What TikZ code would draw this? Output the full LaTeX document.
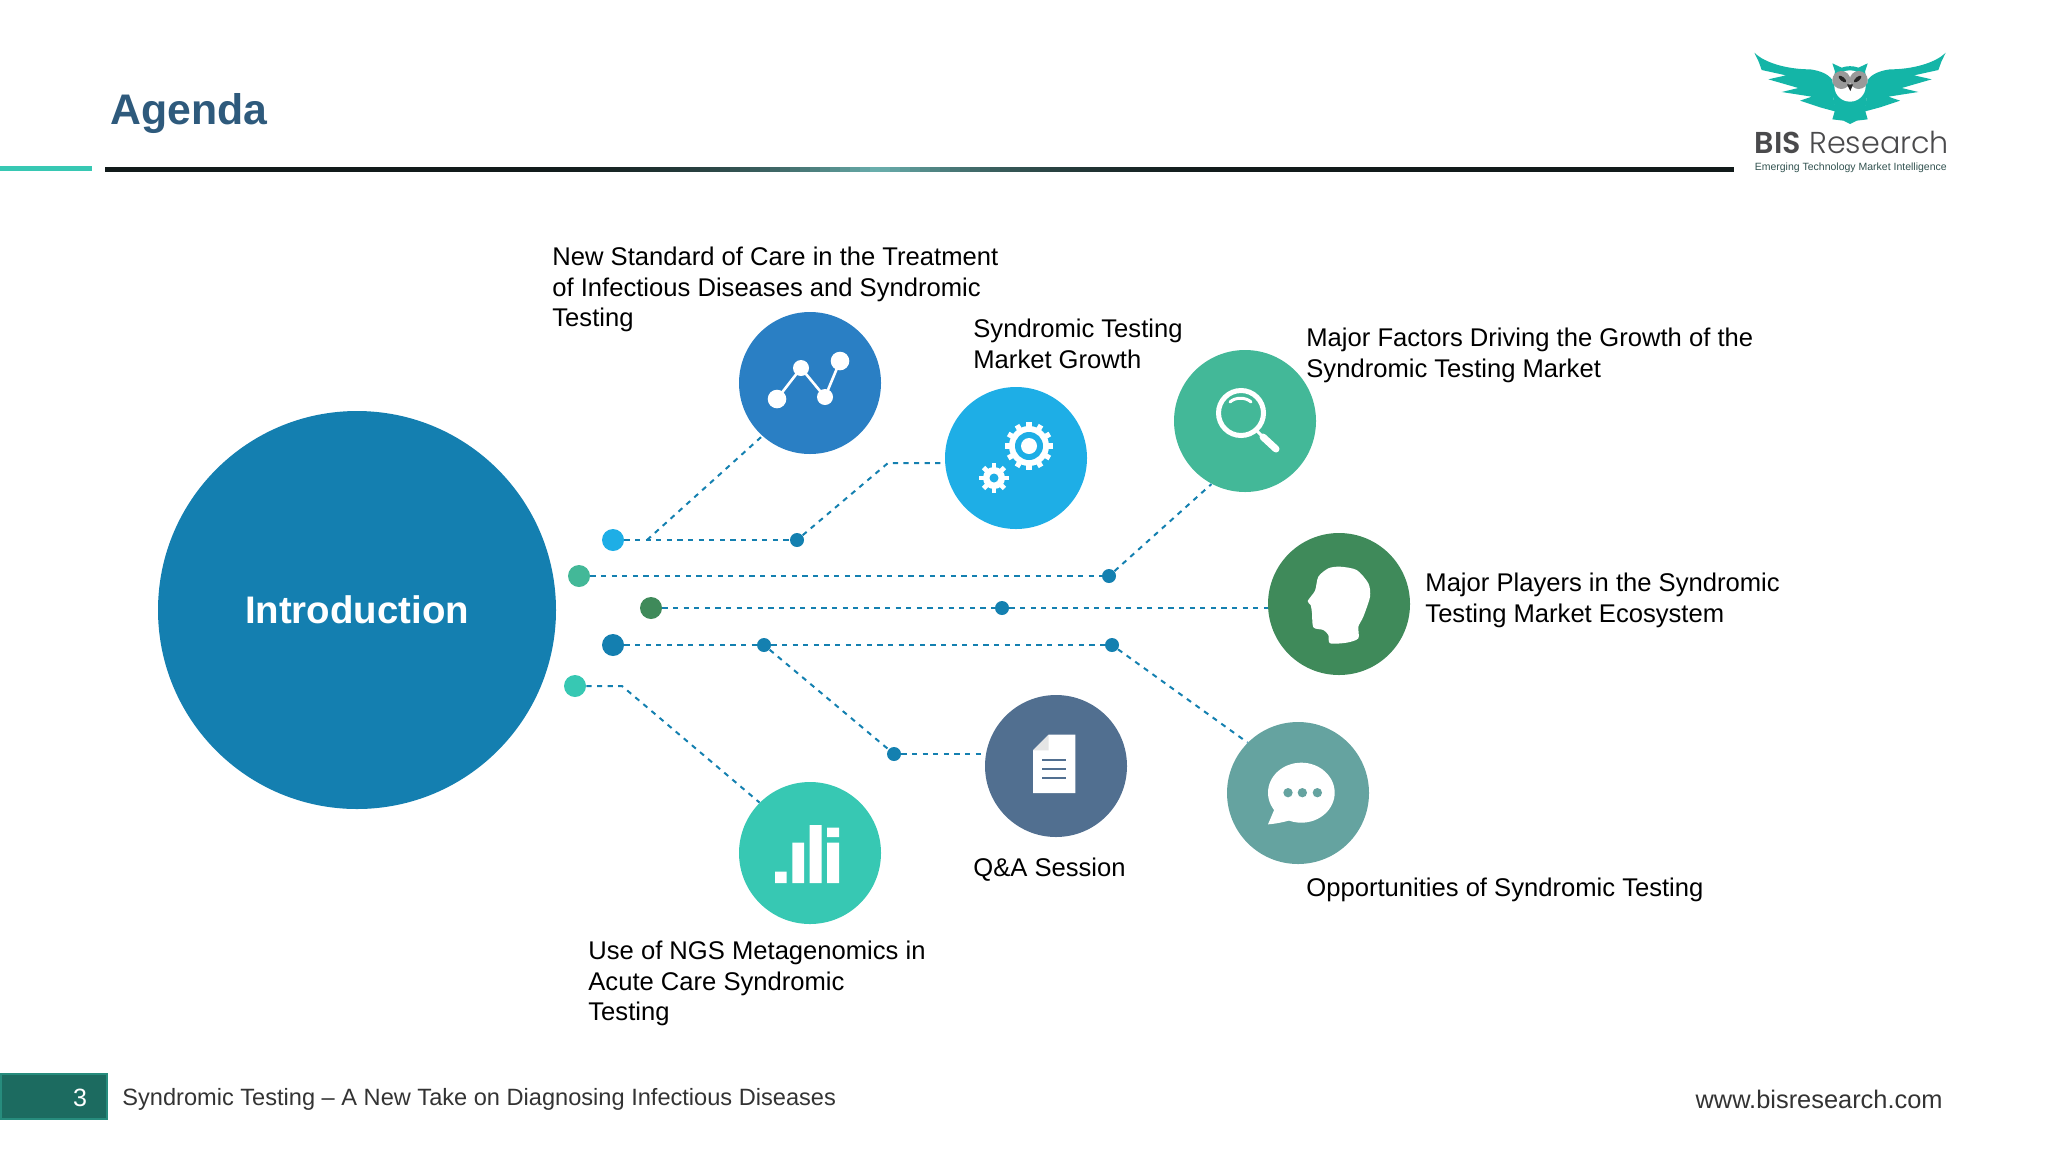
\documentclass[tikz,border=0pt]{standalone}
\usepackage{fontspec}
\setmainfont{Liberation Sans}
\newfontfamily\logofont{Poppins SemiBold}
\newfontfamily\logolight{Poppins Light}
\definecolor{leadblue}{HTML}{1480B0}
\definecolor{introblue}{HTML}{147FB0}
\definecolor{chartblue}{HTML}{2A7FC4}
\definecolor{gearblue}{HTML}{1EAEE6}
\definecolor{lensgreen}{HTML}{43B898}
\definecolor{headgreen}{HTML}{3F8A5A}
\definecolor{chatgreen}{HTML}{65A3A0}
\definecolor{docblue}{HTML}{516F90}
\definecolor{barteal}{HTML}{37C8B3}
\definecolor{owlteal}{HTML}{14B5A7}
\definecolor{logogray}{HTML}{4A4A4C}
\definecolor{titleblue}{HTML}{2E5A7C}
\definecolor{pageteal}{HTML}{1C6B60}
\definecolor{ruledark}{HTML}{111A1A}
\definecolor{rulemid}{HTML}{6AB0AE}
\tikzstyle{topic} = [circle, minimum size=71pt, inner sep=0pt]
\tikzstyle{bullet} = [circle, minimum size=11pt, inner sep=0pt]
\tikzstyle{joint} = [circle, minimum size=7pt, inner sep=0pt, fill=leadblue]
\tikzstyle{lead} = [draw=leadblue, line width=1pt, dash pattern=on 2.6pt off 2.7pt]
\tikzstyle{label} = [anchor=north west, inner sep=0pt, align=left, font=\fontsize{12.8}{15.35}\selectfont, text=black]
\tikzstyle{crop} = [x=.16667pt, y=-.16667pt]
\newcommand{\owlwing}{%
	\fill[owlteal] (163,68) .. controls (195,100) and (265,118) .. (330,118) .. controls (360,122) and (385,132) .. (397,150)
		-- (400,205) -- (408,245) -- (360,232) -- (300,212) -- (335,200) -- (245,186) -- (295,174) -- (205,148) -- (258,136) -- (185,120) -- (176,95) -- cycle;%
}
\begin{document}
\begin{tikzpicture}[x=.5pt, y=-.5pt]
	\useasboundingbox (0,0) rectangle (2048,1152);
	% header
	\node[anchor=base west, inner sep=0pt, font=\fontsize{21.4}{24}\selectfont\bfseries, text=titleblue] (title) at (110,124) {Agenda};
	\fill[barteal] (0,166) rectangle (92,171);
	\fill[ruledark] (105,167) rectangle (1734,172);
	\foreach \x in {510,520,...,1230} {
		\pgfmathsetmacro{\glow}{100*(1-min(abs(\x-873)/365,1))^2}
		\fill[rulemid!\glow!ruledark] (\x,167) rectangle (\x+11,172);
	}
	% logo
	\begin{scope}[shift={(1700,30)}, crop]
		\owlwing
		\begin{scope}[shift={(900,0)}, xscale=-1]
			\owlwing
		\end{scope}
		\fill[owlteal] (397,100) -- (425,113) .. controls (440,107) and (460,107) .. (475,113) -- (503,100) -- (495,125) -- (505,170) -- (495,240) -- (503,268) -- (470,272) -- (450,282) -- (430,272) -- (397,268) -- (405,240) -- (395,170) -- (405,125) -- cycle;
		\fill[white] (450,168) circle[radius=47];
		\fill[black!40] (424,150) circle[radius=27];
		\fill[black!40] (476,150) circle[radius=27];
		\fill[black!85] (427,147) ellipse[x radius=14, y radius=6, rotate=-40];
		\fill[black!85] (473,147) ellipse[x radius=14, y radius=6, rotate=40];
		\fill[black!85] (441,163) -- (459,163) -- (451,183) -- cycle;
		\node[anchor=base west, inner sep=0pt, font=\fontsize{15.1}{18}\selectfont, text=logogray] (brand) at (163,369) {{\logofont BIS} {\logolight Research}};
		\node[anchor=base west, inner sep=0pt, font=\fontsize{5.25}{7}\selectfont, text=chatgreen!50!black] (tagline) at (163,420) {Emerging Technology Market Intelligence};
	\end{scope}
	% hub
	\node[circle, minimum size=199pt, inner sep=0pt, fill=introblue, text=white, font=\fontsize{19.2}{22}\selectfont\bfseries] (intro) at (357,610) {\raisebox{-1.2pt}{Introduction}};
	% topics
	\node[topic, fill=chartblue] (chart) at (810,383) {};
	\node[topic, fill=gearblue] (gears) at (1016,458) {};
	\node[topic, fill=lensgreen] (lens) at (1245,421) {};
	\node[topic, fill=headgreen] (head) at (1339,604) {};
	\node[topic, fill=chatgreen] (chat) at (1298,793) {};
	\node[topic, fill=docblue] (doc) at (1056,766) {};
	\node[topic, fill=barteal] (bars) at (810,853) {};
	% bullets
	\node[bullet, fill=gearblue] (dotA) at (613,540) {};
	\node[bullet, fill=lensgreen] (dotB) at (579,576) {};
	\node[bullet, fill=headgreen] (dotC) at (651,608) {};
	\node[bullet, fill=introblue] (dotD) at (613,645) {};
	\node[bullet, fill=barteal] (dotE) at (575,686) {};
	% joints
	\node[joint] (jointA) at (797,540) {};
	\node[joint] (jointB) at (1109,576) {};
	\node[joint] (jointC) at (1002,608) {};
	\node[joint] (jointD) at (764,645) {};
	\node[joint] (jointE) at (1112,645) {};
	\node[joint] (jointF) at (894,754) {};
	\coordinate (kneeA) at (647,540);
	\coordinate (kneeB) at (888,463);
	\coordinate (kneeC) at (622,686);
	% leads
	\draw[lead] (dotA) -- (jointA);
	\draw[lead] (kneeA) -- (chart.228);
	\draw[lead] (jointA) -- (kneeB) -- (kneeB -| gears.west);
	\draw[lead] (dotB) -- (jointB);
	\draw[lead] (jointB) -- (lens.242);
	\draw[lead] (dotC) -- (jointC);
	\draw[lead] (jointC) -- (jointC -| head.west);
	\draw[lead] (dotD) -- (jointD);
	\draw[lead] (jointD) -- (jointE);
	\draw[lead] (jointE) -- (chat.135);
	\draw[lead] (jointD) -- (jointF);
	\draw[lead] (jointF) -- (jointF -| doc.west);
	\draw[lead] (dotE) -- (kneeC) -- (bars.135);
	% icons
	\begin{scope}[shift={(chart.center)}]
		\draw[white, line width=1.3pt] (-33,16) -- (-9,-15) -- (15,14) -- (30,-22);
		\fill[white] (-33,16) circle[radius=9.3] (-9,-15) circle[radius=8] (15,14) circle[radius=8] (30,-22) circle[radius=9.3];
	\end{scope}
	\begin{scope}[shift={(gears.center)}]
		\begin{scope}[shift={(13,-12)}]
			\foreach \a in {0,30,...,330} \draw[white, line width=2.6pt] (\a:18) -- (\a:24);
			\fill[white] (0,0) circle[radius=20];
			\fill[gearblue] (0,0) circle[radius=14];
			\fill[white] (0,0) circle[radius=8];
		\end{scope}
		\begin{scope}[shift={(-22,20)}]
			\foreach \a in {0,45,...,315} \draw[white, line width=2.4pt] (\a:9) -- (\a:14.7);
			\fill[white] (0,0) circle[radius=11];
			\fill[gearblue] (0,0) circle[radius=4.5];
		\end{scope}
	\end{scope}
	\begin{scope}[shift={(lens.center)}]
		\draw[white, line width=2.5pt] (-4,-8) circle[radius=22.5];
		\draw[white, line width=1.5pt, line cap=round] (-15,-19) .. controls (-10,-24) and (1,-24) .. (6,-19);
		\draw[white, line width=1.5pt] (12,10) -- (18,16);
		\draw[white, line width=3.5pt, line cap=round] (18,16) -- (31,28);
	\end{scope}
	\begin{scope}[shift={(head.center)}, crop, shift={(-237,-222)}]
		\fill[white] plot[smooth cycle, tension=.45] coordinates {(210,340) (205,315) (190,300) (160,292) (156,250) (152,225) (143,213) (165,182) (175,140) (205,115) (240,110) (290,120) (325,160) (330,200) (310,260) (295,290) (295,325) (260,338)};
	\end{scope}
	\begin{scope}[shift={(chat.center)}, crop, shift={(-115,-788)}]
		\fill[white] (125,787) ellipse[x radius=100, y radius=90];
		\fill[white] (45,835) -- (25,882) .. controls (50,880) and (75,875) .. (95,868) -- cycle;
		\fill[chatgreen] (85,787) circle[radius=14] (128,787) circle[radius=14] (173,787) circle[radius=14];
	\end{scope}
	\begin{scope}[shift={(doc.center)}, crop, shift={(-977,-229)}]
		\fill[white] (955,135) -- (1035,135) -- (1035,310) -- (908,310) -- (908,182) -- cycle;
		\fill[black!10] (955,135) -- (955,182) -- (908,182) -- cycle;
		\foreach \y in {211,238,265} \draw[docblue, line width=.9pt] (935,\y) -- (1007,\y);
	\end{scope}
	\begin{scope}[shift={(bars.center)}, crop, shift={(-240,-489)}]
		\fill[white] (135,545) rectangle (170,579) (187,458) rectangle (222,579) (239,405) rectangle (275,579) (291,458) rectangle (327,579) (291,413) rectangle (327,441);
	\end{scope}
	% labels
	\node[label] (textA) at (552,246.5) {New Standard of Care in the Treatment\\of Infectious Diseases and Syndromic\\Testing};
	\node[label] (textB) at (973,319) {Syndromic Testing\\Market Growth};
	\node[label] (textC) at (1306,328) {Major Factors Driving the Growth of the\\Syndromic Testing Market};
	\node[label] (textD) at (1425,573) {Major Players in the Syndromic\\Testing Market Ecosystem};
	\node[label] (textE) at (1306,878) {Opportunities of Syndromic Testing};
	\node[label] (textF) at (973,858) {Q\&A Session};
	\node[label] (textG) at (588,940.5) {Use of NGS Metagenomics in\\Acute Care Syndromic\\Testing};
	% footer
	\node[draw=barteal!70!black, fill=pageteal, line width=1pt, minimum width=53pt, minimum height=22.5pt, inner sep=0pt] (pagebox) at (53.5,1096.5) {};
	\node[text=white, inner sep=0pt, font=\fontsize{12.5}{14}\selectfont] (pagenum) at (80,1098) {3};
	\node[anchor=west, inner sep=0pt, text=black!80, font=\fontsize{11.8}{14}\selectfont] (footer) at (122,1099) {Syndromic Testing -- A New Take on Diagnosing Infectious Diseases};
	\node[anchor=east, inner sep=0pt, text=black!80, font=\fontsize{12.7}{14}\selectfont] (site) at (1943,1099.5) {www.bisresearch.com};
\end{tikzpicture}
\end{document}
